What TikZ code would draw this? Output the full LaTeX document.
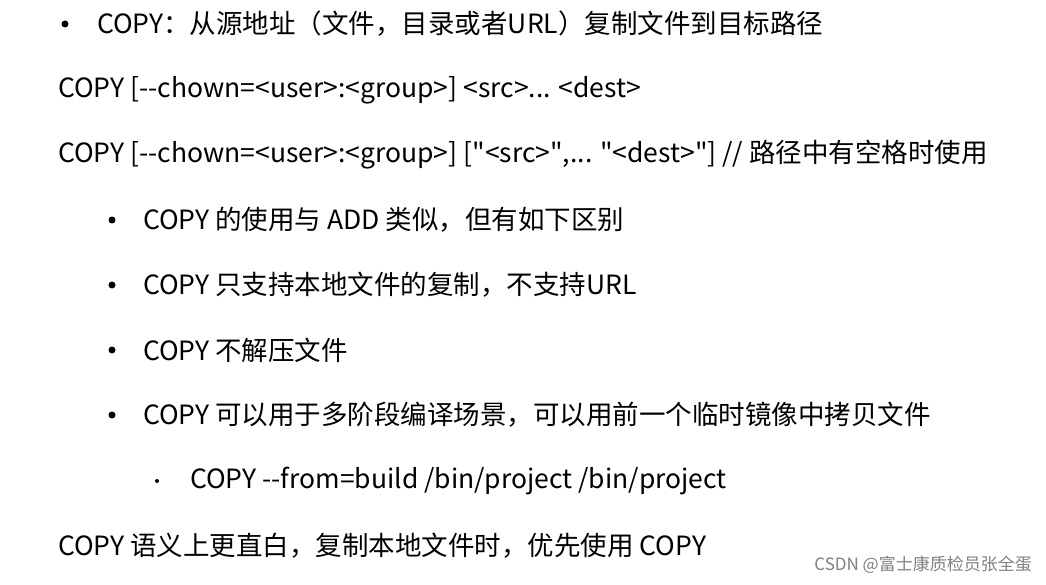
\documentclass[tikz,border=0pt]{standalone}
\usepackage{fontspec}
\setmainfont{Noto Sans CJK SC}
\usetikzlibrary{positioning}

\begin{document}
\begin{tikzpicture}[x=1pt,y=-1pt,
  line/.style={anchor=west,inner sep=0pt,font=\fontsize{26.5}{30}\selectfont},
  dot/.style={circle,fill=black,inner sep=0pt,minimum size=7pt},
  small dot/.style={circle,fill=black,inner sep=0pt,minimum size=4pt},
  mark text/.style={anchor=east,inner sep=0pt,text=gray,font=\fontsize{17}{20}\selectfont},
  ]
  \useasboundingbox (0,0) rectangle (1046,585);
  % top bullet
  \node [dot] (b1) at (65,24) {};
  \node [line] (l1) at (97,24) {COPY：从源地址（文件，目录或者URL）复制文件到目标路径};
  \node [line] (l2) at (58,90) {COPY [-{}-chown=<user>:<group>] <src>... <dest>};
  \node [line] (l3) at (58,155) {COPY [-{}-chown=<user>:<group>] [\textquotedbl<src>\textquotedbl,... \textquotedbl<dest>\textquotedbl] // 路径中有空格时使用};
  % second level
  \foreach \y/\t [count=\i] in {220/COPY 的使用与 ADD 类似，但有如下区别,
      285/COPY 只支持本地文件的复制，不支持URL,
      350/COPY 不解压文件,
      415/COPY 可以用于多阶段编译场景，可以用前一个临时镜像中拷贝文件} {
    \node [dot] (s\i) at (112,\y) {};
    \node [line] (t\i) at (143,\y) {\t};
  }
  % third level
  \node [small dot] (c1) at (157,481) {};
  \node [line] (u1) at (190,481) {COPY -{}-from=build /bin/project /bin/project};
  \node [line] (l4) at (58,546) {COPY 语义上更直白，复制本地文件时，优先使用 COPY};
  \node [mark text] (wm) at (1032,565) {CSDN @富士康质检员张全蛋};
\end{tikzpicture}
\end{document}
